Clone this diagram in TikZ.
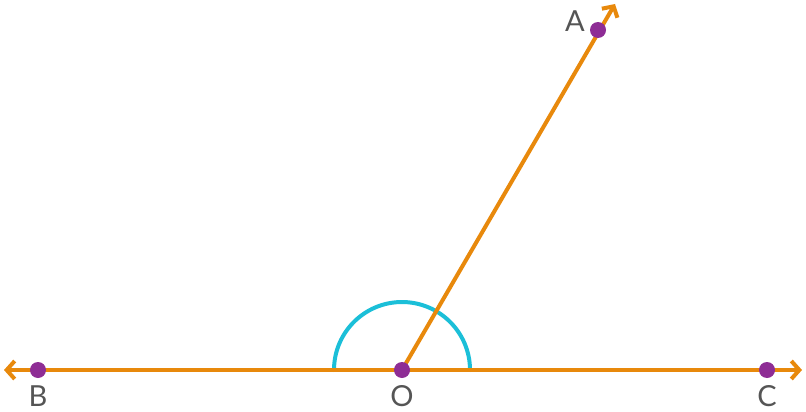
\documentclass[tikz,border=0pt]{standalone}
\usepackage{fontspec}
\setmainfont{Lato}
\usetikzlibrary{arrows.meta}
\definecolor{rayorange}{HTML}{E8890C}
\definecolor{dotpurple}{HTML}{8E2D95}
\definecolor{arccyan}{HTML}{1BBFD8}
\definecolor{labelgray}{HTML}{555555}
\tikzset{
  ray/.style={line width=4pt,color=rayorange,line cap=round,
    -{Straight Barb[length=8pt,width=18pt,line width=4pt]}},
  dot/.style={circle,fill=dotpurple,inner sep=0pt,minimum size=16pt},
  lbl/.style={color=labelgray,font=\fontsize{29}{29}\selectfont,inner sep=0pt}
}
\begin{document}
\begin{tikzpicture}[line cap=round,line join=round,x=1pt,y=-1pt]
\useasboundingbox (0,0) rectangle (806,412);
% points
\coordinate (O) at (402,370);
\coordinate (Aend) at (615,4);
\coordinate (Bend) at (4,370);
\coordinate (Cend) at (802,370);
% angle arc
\draw[line width=4pt,color=arccyan] (334,370) arc[start angle=180,end angle=360,radius=68];
% rays
\draw[ray] (O) -- (Aend);
\draw[ray] (O) -- (Bend);
\draw[ray] (O) -- (Cend);
% dots
\node[dot] (o) at (O) {};
\node[dot] (a) at (598,30) {};
\node[dot] (b) at (38,370) {};
\node[dot] (c) at (767,370) {};
% labels
\node[lbl] at (575,21) {A};
\node[lbl] at (38,396) {B};
\node[lbl] at (402,396) {O};
\node[lbl] at (767,396) {C};
\end{tikzpicture}
\end{document}
